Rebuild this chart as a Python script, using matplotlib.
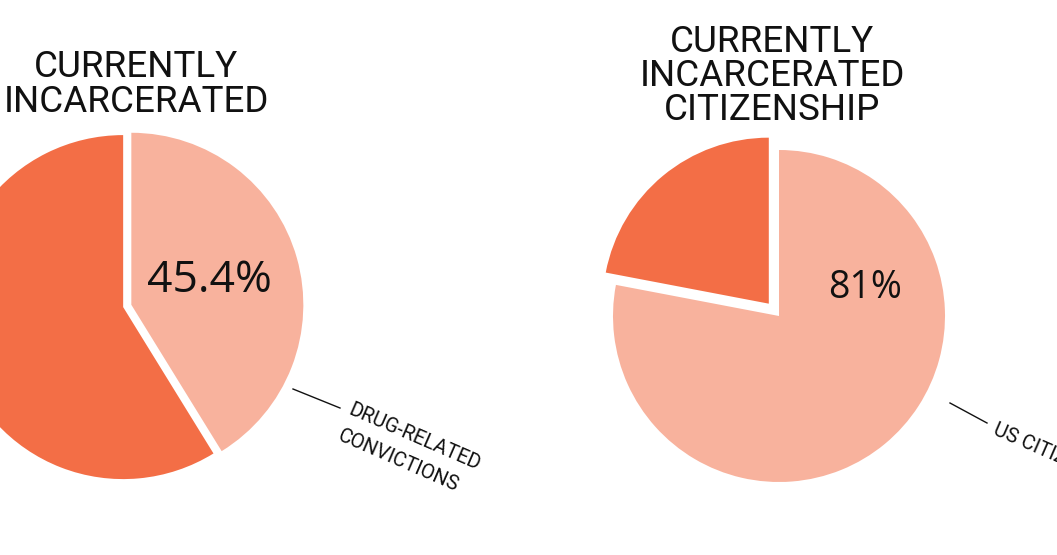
import matplotlib.pyplot as plt

# wedge sizes as drawn in the picture, labels as printed
drug_shares = [41.2, 58.8]
drug_label = "45.4%"
citizen_shares = [78.0, 22.0]
citizen_label = "81%"

left_title = ["CURRENTLY", "INCARCERATED"]
right_title = ["CURRENTLY", "INCARCERATED", "CITIZENSHIP"]
left_callout = ["DRUG-RELATED", "CONVICTIONS"]
right_callout = ["US CITIZENS"]

dark = "#F36E46"
light = "#F8B29D"

W, H = 1057, 555
fig = plt.figure(figsize=(W / 100, H / 100), dpi=100)
ax = fig.add_axes([0, 0, 1, 1])


def up(y):
    # image row -> axes y
    return H - y


# explode is in data units here (1 unit = 1 px)
ax.pie(drug_shares, colors=[light, dark], startangle=90, counterclock=False,
       center=(127, up(306)), radius=172, explode=[4.5, 4.0],
       wedgeprops=dict(linewidth=0), frame=True)
ax.pie(citizen_shares, colors=[light, dark], startangle=90, counterclock=False,
       center=(779, up(316)), radius=166, explode=[0, 16],
       wedgeprops=dict(linewidth=0), frame=True)
ax.set_xlim(0, W)
ax.set_ylim(0, H)
ax.axis("off")

ax.text(209, up(281), drug_label, fontsize=32, family="Open Sans",
        ha="center", va="center", color="#111111")
ax.text(865, up(288), citizen_label, fontsize=27, family="Open Sans",
        ha="center", va="center", color="#111111")

for i, line in enumerate(left_title):
    ax.text(136, up(67 + 34.5 * i), line, fontsize=26.5, family="Roboto",
            ha="center", va="center", color="#111111")
for i, line in enumerate(right_title):
    ax.text(772, up(42 + 34 * i), line, fontsize=26.5, family="Roboto",
            ha="center", va="center", color="#111111")

# callouts
ax.plot([293, 340], [up(389), up(408)], color="#111111", lw=1)
ax.plot([950, 987], [up(403), up(423)], color="#111111", lw=1)
starts = [(347, 414), (337, 440)]
for (x, y), line in zip(starts, left_callout):
    ax.text(x, up(y), line, fontsize=14.5, family="Roboto", rotation=-23.5,
            rotation_mode="anchor", ha="left", va="baseline", color="#111111")
ax.text(992, up(434), right_callout[0], fontsize=14.5, family="Roboto",
        rotation=-23.5, rotation_mode="anchor", ha="left", va="baseline",
        color="#111111")

fig.savefig("out.png", dpi=100)
